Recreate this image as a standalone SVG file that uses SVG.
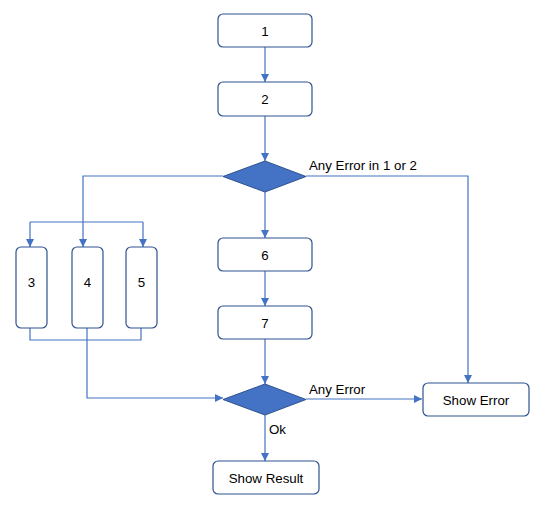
<svg xmlns="http://www.w3.org/2000/svg" width="546" height="508" viewBox="0 0 546 508">
<defs>
<marker id="ah" viewBox="0 0 10 10" refX="10" refY="5" markerWidth="8" markerHeight="8" markerUnits="userSpaceOnUse" orient="auto">
<path d="M0,0 L10,5 L0,10 z" fill="#4472C4"/>
</marker>
<style>
.box{fill:#fff;stroke:#2F528F;stroke-width:1.2}
.dia{fill:#4472C4;stroke:#2F528F;stroke-width:1}
.ln{fill:none;stroke:#4472C4;stroke-width:1.2}
.arr{marker-end:url(#ah)}
text{font-family:"Liberation Sans","Open Sans",Arial,sans-serif;font-size:13.3px;fill:#000}
.c{text-anchor:middle}
</style>
</defs>
<rect width="546" height="508" fill="#fff"/>
<g id="connectors">
<path class="ln arr" d="M265,47 V82"/>
<path class="ln arr" d="M265,116 V161"/>
<path class="ln arr" d="M223,176 H83 V247"/>
<path class="ln arr" d="M30,222 V247"/>
<path class="ln arr" d="M143,222 V247"/>
<path class="ln" d="M30,222 H143"/>
<path class="ln arr" d="M306,176 H468 V383"/>
<path class="ln arr" d="M265,192 V238"/>
<path class="ln arr" d="M265,271 V306"/>
<path class="ln arr" d="M265,339 V384"/>
<path class="ln" d="M30,328 V340 H141 V328"/>
<path class="ln arr" d="M87,328 V398 H223"/>
<path class="ln arr" d="M306,399 H422"/>
<path class="ln arr" d="M265,415 V461"/>
<text x="309" y="170">Any Error in 1 or 2</text>
<text x="309" y="394">Any Error</text>
<text x="269" y="434">Ok</text>
</g>
<g id="n1"><rect class="box" x="218" y="14" width="94" height="33" rx="5"/><text class="c" x="265" y="36">1</text></g>
<g id="n2"><rect class="box" x="218" y="82" width="94" height="34" rx="5"/><text class="c" x="265" y="104">2</text></g>
<g id="d1"><polygon class="dia" points="265,161 306,176.5 265,192 223,176.5"/></g>
<g id="n3"><rect class="box" x="16" y="247" width="31" height="81" rx="5"/><text class="c" x="31.5" y="287">3</text></g>
<g id="n4"><rect class="box" x="72" y="247" width="31" height="81" rx="5"/><text class="c" x="87.5" y="287">4</text></g>
<g id="n5"><rect class="box" x="126" y="247" width="31" height="81" rx="5"/><text class="c" x="141.5" y="287">5</text></g>
<g id="n6"><rect class="box" x="218" y="238" width="94" height="33" rx="5"/><text class="c" x="265" y="260">6</text></g>
<g id="n7"><rect class="box" x="218" y="306" width="94" height="33" rx="5"/><text class="c" x="265" y="328">7</text></g>
<g id="d2"><polygon class="dia" points="265,384 306,399.5 265,415 223,399.5"/></g>
<g id="showError"><rect class="box" x="423" y="383" width="106" height="33" rx="5"/><text class="c" x="476" y="405">Show Error</text></g>
<g id="showResult"><rect class="box" x="213" y="461" width="106" height="33" rx="5"/><text class="c" x="266" y="483">Show Result</text></g>
</svg>
